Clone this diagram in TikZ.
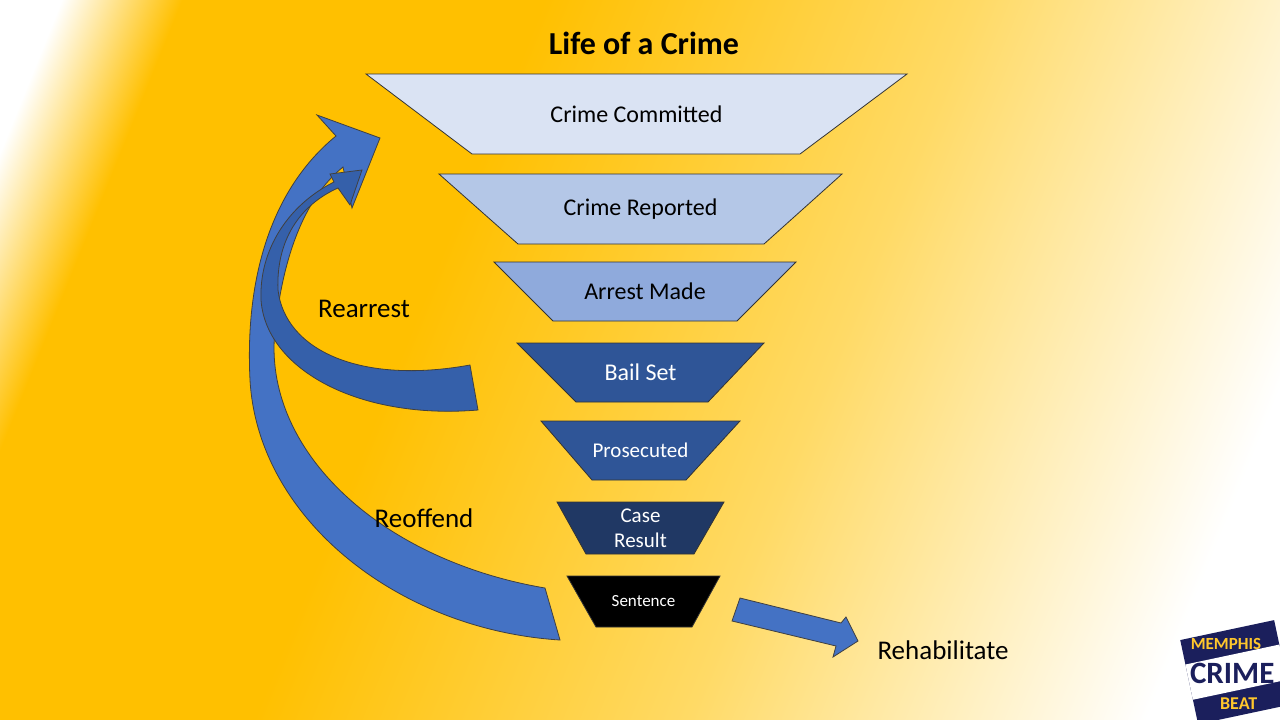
\documentclass[tikz,border=0pt]{standalone}
\usepackage{fontspec}
\setmainfont{Carlito}
\usetikzlibrary{positioning}
\definecolor{bgA}{HTML}{FFF2CC}
\definecolor{bgB}{HTML}{FFC000}
\definecolor{bgC}{HTML}{FFDA66}
\definecolor{stageA}{HTML}{DAE3F3}
\definecolor{stageB}{HTML}{B4C7E7}
\definecolor{stageC}{HTML}{8FAADC}
\definecolor{stageD}{HTML}{2F5597}
\definecolor{stageE}{HTML}{203864}
\definecolor{loopblue}{HTML}{4472C4}
\definecolor{loopdark}{HTML}{3560AA}
\definecolor{navy}{HTML}{1B1F5C}
\definecolor{logoyel}{HTML}{FFC72C}
\pgfdeclarehorizontalshading{bgshade}{100bp}{color(0bp)=(white); color(20bp)=(white); color(25bp)=(bgB); color(40bp)=(bgB); color(58bp)=(bgC); color(77bp)=(white); color(100bp)=(white)}
\tikzset{
  stage/.style={draw=black!80, line width=0.8pt},
  lbl/.style={font=\fontsize{24}{26}\selectfont},
  loop/.style={draw=black!75, line width=0.8pt, fill=loopblue},
}
% trapezoid: name, top y, bottom y, top left, top right, bottom left, bottom right, fill
\newcommand{\stagebox}[8]{%
  \draw[stage, fill=#8] (#4,#2) -- (#5,#2) -- (#7,#3) -- (#6,#3) -- cycle;
  \coordinate (#1) at ({(#4+#5)/2},{(#2+#3)/2});
}
\begin{document}
\begin{tikzpicture}[x=1pt,y=-1pt]
\useasboundingbox (0,0) rectangle (1280,720);
% background
\shade[shading=bgshade, shading angle=-22] (0,0) rectangle (1280,720);

% title
\node[font=\fontsize{32}{34}\selectfont\bfseries] (title) at (644,43) {Life of a Crime};

% funnel
\stagebox{s1}{74}{154}{366}{907}{472}{800}{stageA}
\stagebox{s2}{174}{244}{439}{842}{518}{764}{stageB}
\stagebox{s3}{262}{321}{494}{796}{553}{737}{stageC}
\stagebox{s4}{343}{402}{517}{764}{576}{708}{stageD}
\stagebox{s5}{421}{480}{541}{740}{592}{686}{stageD}
\stagebox{s6}{502}{554}{557}{724}{586}{694}{stageE}
\stagebox{s7}{576}{627}{567}{720}{596}{692}{black}
\node[lbl] at (s1) {Crime Committed};
\node[lbl] at (s2) {Crime Reported};
\node[lbl] at (s3) {Arrest Made};
\node[lbl, text=white] at (s4) {Bail Set};
\node[font=\fontsize{21}{23}\selectfont, text=white] at (s5) {Prosecuted};
\node[font=\fontsize{21}{25}\selectfont, text=white, align=center] at (s6) {Case\\Result};
\node[font=\fontsize{17}{19}\selectfont, text=white] at (s7) {Sentence};

% loops back
\draw[loop] (545,588) .. controls (380,560) and (262,450) .. (275,330)
  .. controls (285,240) and (312,192) .. (343,167) -- (352,208) -- (380,138)
  -- (317,115) -- (336,136) .. controls (270,190) and (245,280) .. (250,380)
  .. controls (258,520) and (400,630) .. (560,640) -- cycle;
\draw[loop, fill=loopdark] (470,365) .. controls (360,385) and (285,350) .. (278,290)
  .. controls (276,240) and (300,205) .. (338,188) -- (350,205) -- (362,170)
  -- (330,174) -- (334,182) .. controls (288,205) and (259,250) .. (261,300)
  .. controls (266,370) and (360,420) .. (478,410) -- cycle;
\node[font=\fontsize{27}{29}\selectfont] (rearrest) at (364,309) {Rearrest};
\node[font=\fontsize{27}{29}\selectfont] (reoffend) at (424,518) {Reoffend};

% rehabilitate
\draw[loop] (740,598) -- (841,623) -- (846,617) -- (858,641) -- (833,657)
  -- (836,646) -- (732,621) -- cycle;
\node[font=\fontsize{27}{29}\selectfont, anchor=west] (rehab) at (874,650) {Rehabilitate};

% logo
\begin{scope}[rotate around={12:(1232,672)}]
  \fill[navy] (1188,630) rectangle (1284,716);
  \fill[white] (1188,655) rectangle (1284,691);
  \node[font=\fontsize{17}{17}\selectfont\bfseries, text=logoyel] (mem) at (1232,643) {MEMPHIS};
  \node[font=\fontsize{31}{31}\selectfont\bfseries, text=navy] (crime) at (1232,673) {CRIME};
  \node[font=\fontsize{18}{18}\selectfont\bfseries, text=logoyel] (beat) at (1232,704) {BEAT};
\end{scope}
\end{tikzpicture}
\end{document}
